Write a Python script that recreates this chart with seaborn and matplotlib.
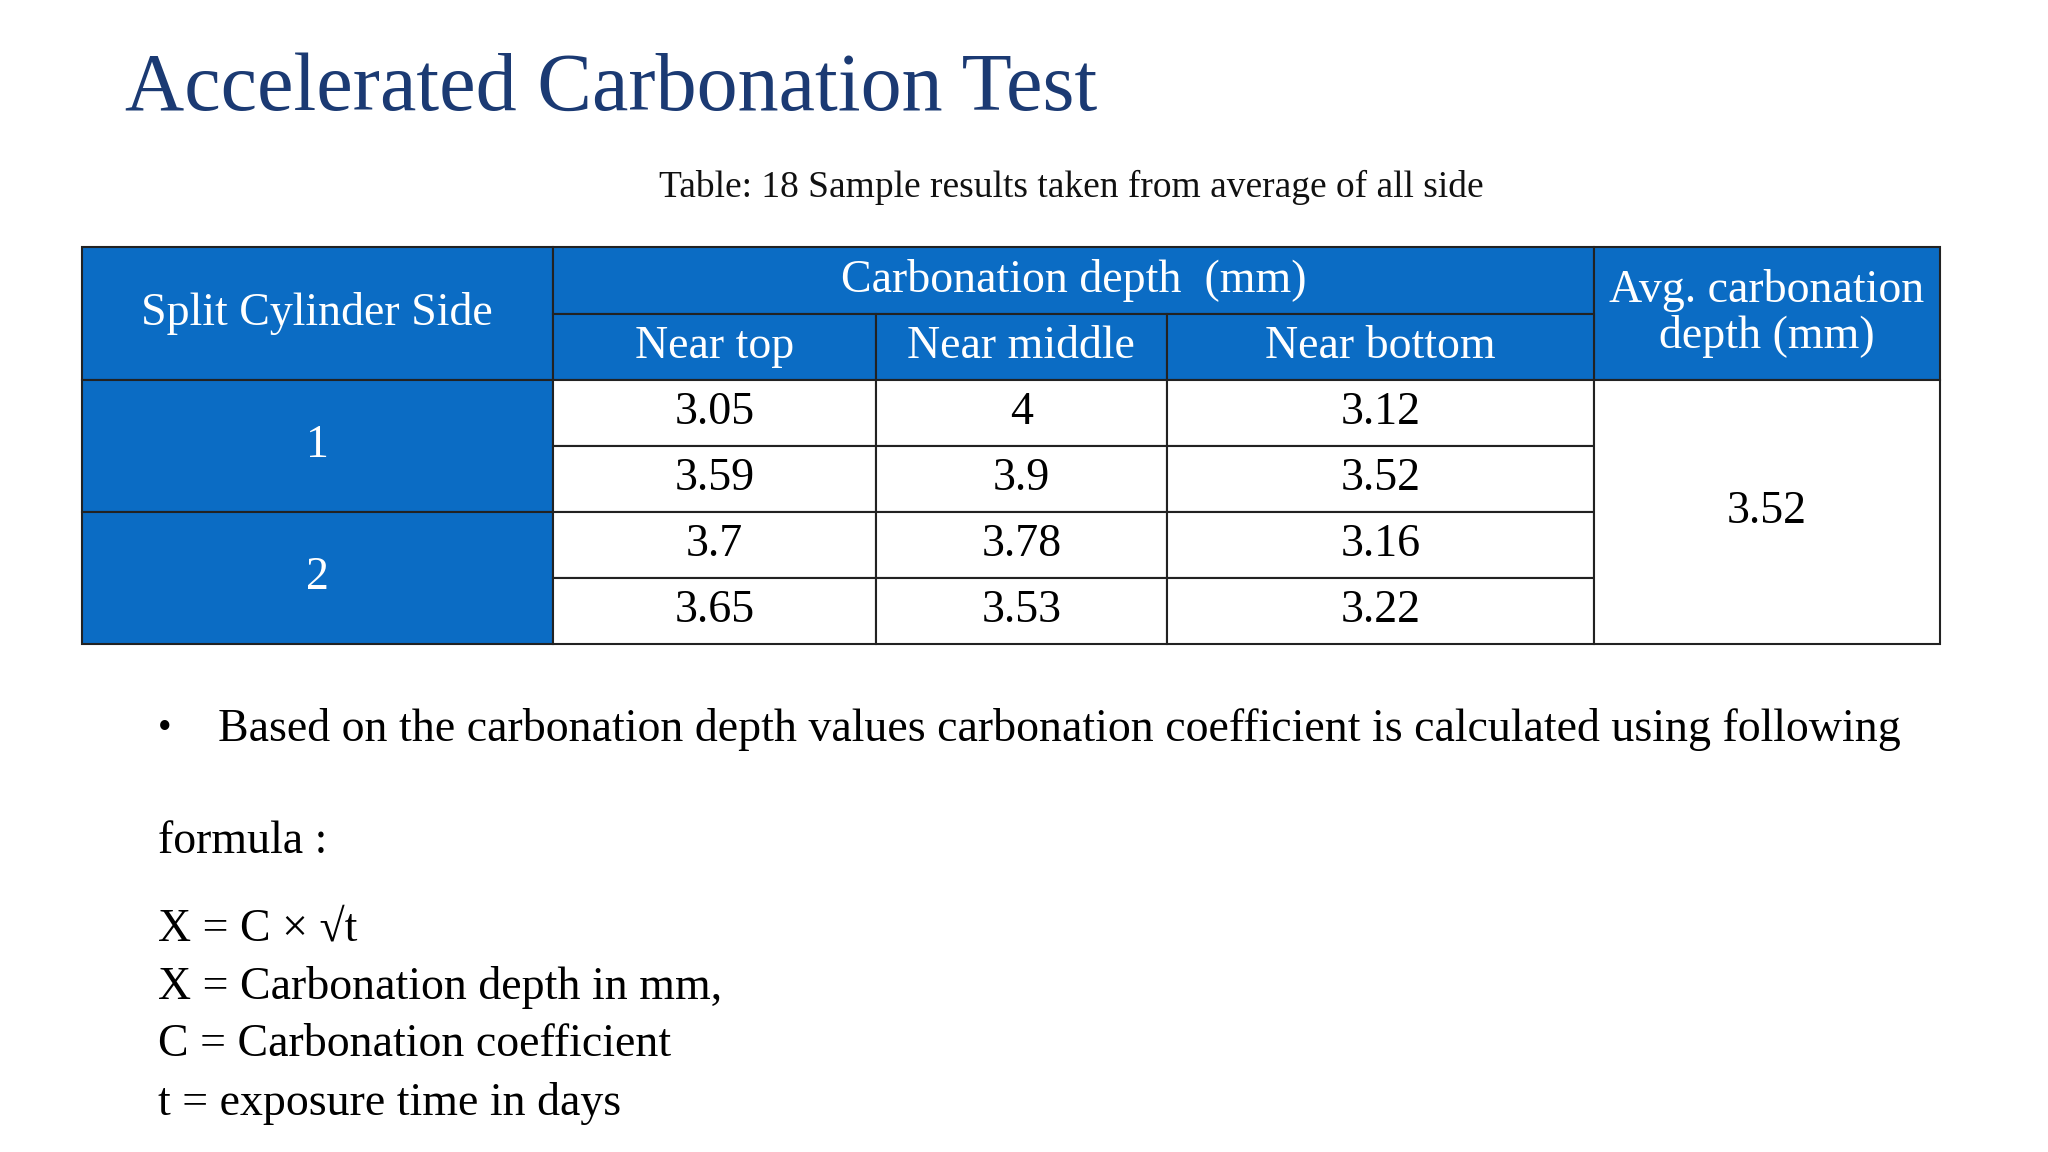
import matplotlib.pyplot as plt
import seaborn as sns
from matplotlib.patches import Rectangle

sns.set_style("white")
plt.rcParams['font.family'] = ['Liberation Serif', 'DejaVu Serif']

title = "Accelerated Carbonation Test"
caption = "Table: 18 Sample results taken from average of all side"
sub_cols = ["Near top", "Near middle", "Near bottom"]
sides = ["1", "2"]
near_top = ["3.05", "3.59", "3.7", "3.65"]
near_middle = ["4", "3.9", "3.78", "3.53"]
near_bottom = ["3.12", "3.52", "3.16", "3.22"]
avg_depth = "3.52"
bullet = "Based on the carbonation depth values carbonation coefficient is calculated using following"
formula_lines = ["X = C \u00d7 \u221at", "X = Carbonation depth in mm,",
                 "C = Carbonation coefficient", "t = exposure time in days"]

blue = "#0B6CC4"
navy = "#1B3A73"
W, H = 1552, 873

fig = plt.figure(figsize=(20.48, 11.52), dpi=100)
ax = fig.add_axes([0, 0, 1, 1])
ax.set_xlim(0, W)
ax.set_ylim(H, 0)
ax.axis("off")

ax.text(95, 68, title, fontsize=59, color=navy, va="center")
ax.text(812, 142, caption, fontsize=27, color="#111111", ha="center", va="center")

xs = [62, 419, 664, 884, 1208, 1470]
ys = [187, 238, 288, 338, 388, 438, 488]

def cell(x0, x1, y0, y1, fc, text, color):
    ax.add_patch(Rectangle((x0, y0), x1 - x0, y1 - y0, facecolor=fc,
                           edgecolor="#222222", lw=1.5))
    ax.text((x0 + x1) / 2, (y0 + y1) / 2, text, fontsize=33, color=color,
            ha="center", va="center", linespacing=1.1)

cell(xs[0], xs[1], ys[0], ys[2], blue, "Split Cylinder Side", "white")
cell(xs[1], xs[4], ys[0], ys[1], blue, "Carbonation depth  (mm)", "white")
cell(xs[4], xs[5], ys[0], ys[2], blue, "Avg. carbonation\ndepth (mm)", "white")
for j, name in enumerate(sub_cols):
    cell(xs[1 + j], xs[2 + j], ys[1], ys[2], blue, name, "white")
for i, s in enumerate(sides):
    cell(xs[0], xs[1], ys[2 + 2 * i], ys[4 + 2 * i], blue, s, "white")
for r, vals in enumerate(zip(near_top, near_middle, near_bottom)):
    for j, v in enumerate(vals):
        cell(xs[1 + j], xs[2 + j], ys[2 + r], ys[3 + r], "white", v, "black")
cell(xs[4], xs[5], ys[2], ys[6], "white", avg_depth, "black")

ax.text(120, 553, "\u2022", fontsize=28, color="black", va="center")
ax.text(165, 553, bullet, fontsize=33, color="black", va="center")
ax.text(120, 638, "formula :", fontsize=33, color="black", va="center")
for k, line in enumerate(formula_lines):
    ax.text(120, 704 + k * 44, line, fontsize=33, color="black", va="center")

fig.savefig("out.png", dpi=100, facecolor="white")
